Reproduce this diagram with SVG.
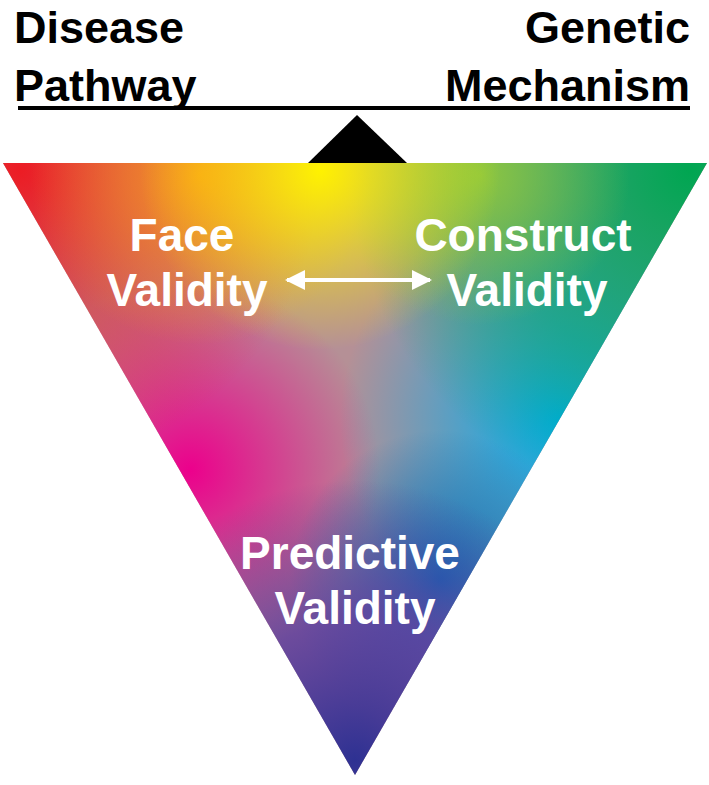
<svg xmlns="http://www.w3.org/2000/svg" width="709" height="785" viewBox="0 0 709 785">
<style>
.h{font-family:"Liberation Sans",Arial,sans-serif;font-weight:bold;font-size:45px;fill:#000}
.w{font-family:"Liberation Sans",Arial,sans-serif;font-weight:bold;font-size:46px;fill:#fff;text-anchor:middle}
</style>
<defs>
<clipPath id="tri"><polygon points="3,163 707,163 355,775"/></clipPath>
<radialGradient id="gR" cx="20" cy="170" r="300" gradientUnits="userSpaceOnUse"><stop offset="0" stop-color="#ec1c24"/><stop offset="1" stop-color="#ec1c24" stop-opacity="0"/></radialGradient>
<radialGradient id="gO" cx="200" cy="175" r="170" gradientUnits="userSpaceOnUse"><stop offset="0" stop-color="#f7941d"/><stop offset="1" stop-color="#f7941d" stop-opacity="0"/></radialGradient>
<radialGradient id="gY" cx="320" cy="170" r="180" gradientUnits="userSpaceOnUse"><stop offset="0" stop-color="#fff200"/><stop offset="1" stop-color="#fff200" stop-opacity="0"/></radialGradient>
<radialGradient id="gG" cx="690" cy="170" r="340" gradientUnits="userSpaceOnUse"><stop offset="0" stop-color="#00a651"/><stop offset="0.6" stop-color="#00a86b" stop-opacity="0.6"/><stop offset="1" stop-color="#00a651" stop-opacity="0"/></radialGradient>
<radialGradient id="gLG" cx="480" cy="175" r="150" gradientUnits="userSpaceOnUse"><stop offset="0" stop-color="#8dc63f"/><stop offset="1" stop-color="#8dc63f" stop-opacity="0"/></radialGradient>
<radialGradient id="gC" cx="560" cy="420" r="220" gradientUnits="userSpaceOnUse"><stop offset="0" stop-color="#00aeef"/><stop offset="1" stop-color="#00aeef" stop-opacity="0"/></radialGradient>
<radialGradient id="gM" cx="190" cy="470" r="190" gradientUnits="userSpaceOnUse"><stop offset="0" stop-color="#ec008c"/><stop offset="1" stop-color="#ec008c" stop-opacity="0"/></radialGradient>
<radialGradient id="gB" cx="355" cy="760" r="280" gradientUnits="userSpaceOnUse"><stop offset="0" stop-color="#2e3192"/><stop offset="0.5" stop-color="#5b3a9e" stop-opacity="0.8"/><stop offset="1" stop-color="#662d91" stop-opacity="0"/></radialGradient>
<radialGradient id="gBl" cx="440" cy="580" r="150" gradientUnits="userSpaceOnUse"><stop offset="0" stop-color="#0072bc"/><stop offset="1" stop-color="#0072bc" stop-opacity="0"/></radialGradient>
<marker id="ah" viewBox="0 0 10 10" refX="9" refY="5" markerWidth="5" markerHeight="5" orient="auto-start-reverse"><path d="M0,0 L10,5 L0,10 z" fill="#fff"/></marker>
</defs>
<g id="top-labels">
<text class="h" x="14" y="43">Disease</text>
<text class="h" x="14" y="101">Pathway</text>
<text class="h" x="690" y="43" text-anchor="end">Genetic</text>
<text class="h" x="690" y="101" text-anchor="end">Mechanism</text>
</g>
<g id="balance">
<line x1="18" y1="108" x2="690" y2="108" stroke="#000" stroke-width="4"/>
<polygon points="308,163 407,163 357,115" fill="#000"/>
</g>
<g id="triangle" clip-path="url(#tri)">
<rect x="0" y="160" width="709" height="620" fill="#b59096"/>
<rect x="0" y="160" width="709" height="620" fill="url(#gM)"/>
<rect x="0" y="160" width="709" height="620" fill="url(#gC)"/>
<rect x="0" y="160" width="709" height="620" fill="url(#gBl)"/>
<rect x="0" y="160" width="709" height="620" fill="url(#gB)"/>
<rect x="0" y="160" width="709" height="620" fill="url(#gR)"/>
<rect x="0" y="160" width="709" height="620" fill="url(#gG)"/>
<rect x="0" y="160" width="709" height="620" fill="url(#gLG)"/>
<rect x="0" y="160" width="709" height="620" fill="url(#gO)"/>
<rect x="0" y="160" width="709" height="620" fill="url(#gY)"/>
</g>
<g id="face"><text class="w" x="182" y="251">Face</text><text class="w" x="187" y="306">Validity</text></g>
<g id="construct"><text class="w" x="523" y="251">Construct</text><text class="w" x="527" y="306">Validity</text></g>
<g id="predictive"><text class="w" x="350" y="569">Predictive</text><text class="w" x="355" y="624">Validity</text></g>
<g id="connectors">
<line x1="287" y1="280" x2="430" y2="280" stroke="#fff" stroke-width="4" marker-start="url(#ah)" marker-end="url(#ah)"/>
</g>
</svg>
